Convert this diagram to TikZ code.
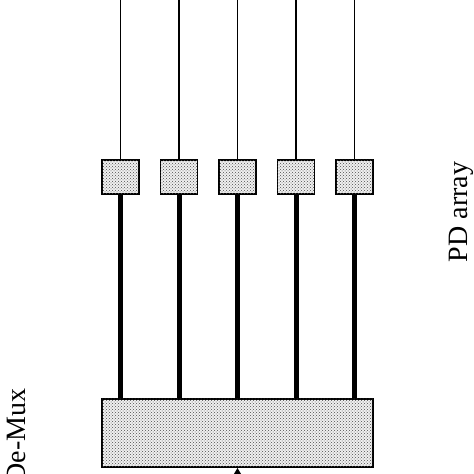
\documentclass[tikz,border=0pt]{standalone}
\usepackage{fontspec}
\setmainfont{Liberation Serif}
\usetikzlibrary{patterns,arrows.meta}

\tikzset{
  pdbox/.style={draw, line width=1.5pt, minimum width=37pt, minimum height=34pt,
    inner sep=0pt, fill=black!6, postaction={pattern=crosshatch dots, pattern color=black!70}},
  muxbox/.style={draw, line width=2pt, minimum width=271pt, minimum height=68pt,
    inner sep=0pt, fill=black!6, postaction={pattern=crosshatch dots, pattern color=black!70}},
  fibre/.style={line width=5pt},
  label/.style={rotate=90, anchor=base, font=\fontsize{28}{30}\selectfont}
}

\begin{document}
\begin{tikzpicture}[x=1pt, y=1pt]
            \useasboundingbox (0, 0) rectangle (474, 474);

            \node[pdbox] (pd1) at (120.5, 297) {};
            \node[pdbox] (pd2) at (179, 297) {};
            \node[pdbox] (pd3) at (237.5, 297) {};
            \node[pdbox] (pd4) at (296, 297) {};
            \node[pdbox] (pd5) at (354.5, 297) {};

            \node[muxbox] (demux) at (237.5, 41) {};

            \coordinate (t1) at (120.5, 480);
            \coordinate (t2) at (179, 480);
            \coordinate (t3) at (237.5, 480);
            \coordinate (t4) at (296, 480);
            \coordinate (t5) at (354.5, 480);
            \coordinate (in) at (237.5, -20);

            \draw[line width=1.1pt] (pd1) to (t1);
            \draw[line width=1.1pt] (pd2) to (t2);
            \draw[line width=1.1pt] (pd3) to (t3);
            \draw[line width=1.1pt] (pd4) to (t4);
            \draw[line width=1.1pt] (pd5) to (t5);

            \draw[fibre] (pd1) to (pd1 |- demux.north);
            \draw[fibre] (pd2) to (pd2 |- demux.north);
            \draw[fibre] (pd3) to (pd3 |- demux.north);
            \draw[fibre] (pd4) to (pd4 |- demux.north);
            \draw[fibre] (pd5) to (pd5 |- demux.north);

            \draw[line width=1pt, -{Triangle[length=7pt, width=8pt]}] (in) to (demux);

            \node[label] (muxlabel) at (25, 38) {De-Mux};
            \node[label] (pdlabel) at (467, 262) {PD array};
        \end{tikzpicture}
\end{document}
